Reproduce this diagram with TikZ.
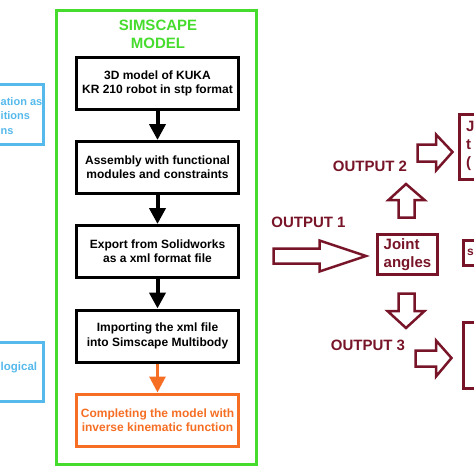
\documentclass[tikz,border=0pt]{standalone}
\usepackage{fontspec}
\setmainfont{Liberation Sans}
\usetikzlibrary{arrows.meta}
\definecolor{simgreen}{RGB}{70,220,45}
\definecolor{sideblue}{RGB}{85,185,235}
\definecolor{outred}{RGB}{120,20,40}
\definecolor{ikorange}{RGB}{245,110,35}

\begin{document}
\begin{tikzpicture}[x=1pt,y=-1pt,
	stepbox/.style={draw,line width=3pt,minimum width=162pt,minimum height=52pt,inner sep=0pt,align=center,font=\fontsize{12}{14.3}\selectfont\bfseries},
	flow/.style={line width=4pt,-{Triangle[width=16pt,length=16pt]}},
	hollow/.style={draw=outred,fill=white,line width=2.5pt,line join=miter},
	outlabel/.style={text=outred,inner sep=0pt,font=\fontsize{15}{18}\selectfont\bfseries},
	redbox/.style={draw=outred,line width=3pt},
	bluebox/.style={draw=sideblue,line width=3pt}]
	\useasboundingbox (0,0) rectangle (474,474);
	% Simscape frame
	\draw[simgreen,line width=3pt] (56.5,10.5) rectangle (256.5,464.5);
	\node[text=simgreen,align=center,font=\fontsize{15}{18}\selectfont\bfseries] (title) at (158,34) {SIMSCAPE\\MODEL};
	\node[stepbox] (kuka) at (157.5,83.5) {3D model of KUKA\\KR 210 robot in stp format};
	\node[stepbox] (assembly) at (157.5,167.5) {Assembly with functional\\modules and constraints};
	\node[stepbox] (export) at (157.5,251.5) {Export from Solidworks\\as a xml format file};
	\node[stepbox] (import) at (157.5,336) {Importing the xml file\\into Simscape Multibody};
	\node[stepbox,draw=ikorange,text=ikorange] (ik) at (157.5,420) {Completing the model with\\inverse kinematic function};
	\draw[flow] (kuka) -- (assembly);
	\draw[flow] (assembly) -- (export);
	\draw[flow] (export) -- (import);
	\draw[flow,ikorange,line width=3pt] (import) -- (ik);
	% blue boxes (left, cut)
	\draw[bluebox] (-5,84.5) rectangle (43.5,144.5);
	\node[text=sideblue,align=left,anchor=west,inner sep=0pt,font=\fontsize{11}{14.5}\selectfont\bfseries] (traj) at (0.5,116) {ation as\\itions\\ns};
	\draw[bluebox] (-5,342.5) rectangle (43.5,401.5);
	\node[text=sideblue,anchor=west,inner sep=0pt,font=\fontsize{11.5}{14.5}\selectfont\bfseries] (tech) at (0.5,368) {logical};
	% outputs
	\node[redbox,text=outred,minimum width=60pt,minimum height=40pt,inner sep=0pt,font=\fontsize{15}{18}\selectfont\bfseries,align=left] (joint) at (407.5,254.5) {Joint\\angles};
	\filldraw[hollow] (273.5,248.5) -- (319.5,248.5) -- (319.5,240.5) -- (366,256) -- (319.5,271.5) -- (319.5,263.5) -- (273.5,263.5) -- cycle; %output 1
	\filldraw[hollow] (398.5,217.5) -- (398.5,200) -- (388.5,200) -- (406,184) -- (424.5,200) -- (414.5,200) -- (414.5,217.5) -- cycle; %up
	\filldraw[hollow] (417.5,144.5) -- (436,144.5) -- (436,134.5) -- (452.5,152) -- (436,170.5) -- (436,161.5) -- (417.5,161.5) -- cycle; %output 2
	\filldraw[hollow] (398.5,293.5) -- (398.5,311) -- (387.5,311) -- (406,328) -- (424.5,311) -- (414.5,311) -- (414.5,293.5) -- cycle; %down
	\filldraw[hollow] (415.5,350.5) -- (436,350.5) -- (436,340.5) -- (451.5,358) -- (436,376.5) -- (436,366.5) -- (415.5,366.5) -- cycle; %output 3
	\node[outlabel] (out1) at (308.5,222) {OUTPUT 1};
	\node[outlabel] (out2) at (370,166) {OUTPUT 2};
	\node[outlabel] (out3) at (368,345) {OUTPUT 3};
	% boxes at the right edge (cut)
	\draw[redbox] (459.5,114.5) rectangle (520,179.5);
	\node[outlabel,align=left,anchor=west] (torque) at (466,146) {J\\t\\(};
	\draw[redbox] (463.5,240.5) rectangle (520,265.5);
	\node[text=outred,anchor=west,inner sep=0pt,font=\fontsize{12}{14}\selectfont\bfseries] (small) at (467,252) {s};
	\draw[redbox] (463.5,322.5) rectangle (520,388.5);
\end{tikzpicture}
\end{document}
